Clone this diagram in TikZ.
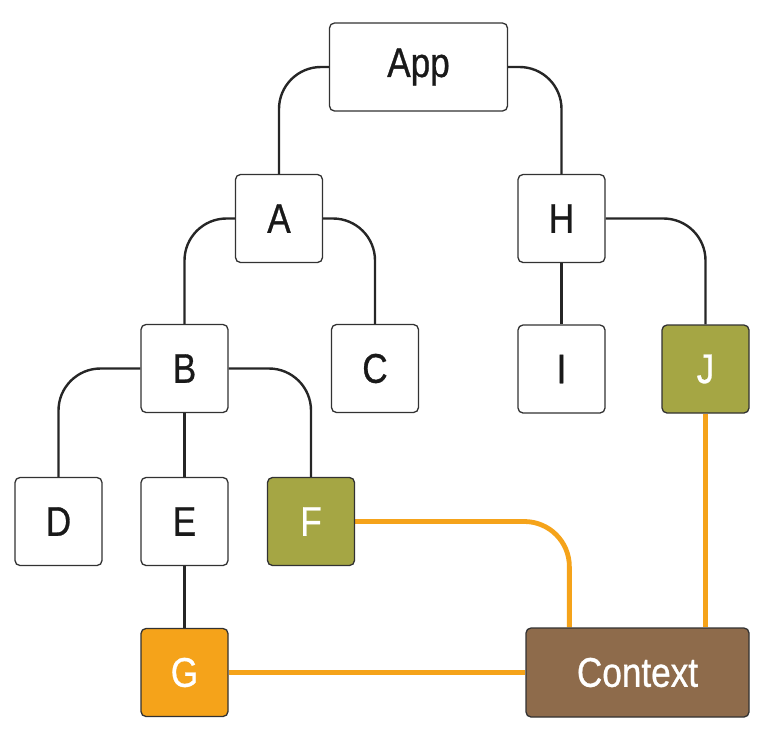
\documentclass[tikz,border=0pt]{standalone}
\usepackage{fontspec}
\setmainfont{Liberation Sans}
\newfontfamily\lblfont[FakeBold=0.8]{Liberation Sans}
\usetikzlibrary{backgrounds}
\definecolor{olive}{RGB}{165,166,68}
\definecolor{ctxorange}{RGB}{245,163,26}
\definecolor{ctxbrown}{RGB}{142,107,75}
\definecolor{boxline}{RGB}{50,50,50}
\newcommand{\lbl}[1]{\scalebox{0.95}[1.12]{#1}}
\tikzset{
  box/.style={draw=boxline, line width=1.3pt, rounded corners=5pt, fill=white,
    minimum width=87pt, minimum height=88pt, inner sep=0pt, text=black!90,
    font=\lblfont\fontsize{37}{40}\selectfont},
  olivebox/.style={box, fill=olive, text=white},
  orangebox/.style={box, fill=ctxorange, text=white},
  tree/.style={line width=2.4pt, black!85, rounded corners=42pt},
  ctx/.style={line width=4.8pt, ctxorange, rounded corners=45pt}
}
\begin{document}
\begin{tikzpicture}[x=1pt,y=-1pt]
\useasboundingbox (0,0) rectangle (770,732);
\node[box, minimum width=178pt] (App) at (418.5,67) {\lbl{App}};
\node[box] (A) at (279,218.5) {\lbl{A}};
\node[box] (H) at (561.5,218.5) {\lbl{H}};
\node[box] (B) at (184.5,368.5) {\lbl{B}};
\node[box] (C) at (375,368.5) {\lbl{C}};
\node[box] (I) at (561.5,369) {\lbl{I}};
\node[olivebox] (J) at (705.5,369) {\lbl{J}};
\node[box] (D) at (58.5,521.5) {\lbl{D}};
\node[box] (E) at (184.5,521.5) {\lbl{E}};
\node[olivebox] (F) at (311,521.5) {\lbl{F}};
\node[orangebox] (G) at (184.5,672.5) {\lbl{G}};
\node[box, fill=ctxbrown, text=white, minimum width=223pt, minimum height=89pt] (Ctx) at (637.5,672.5) {\lbl{Context}};
\begin{scope}[on background layer]
\draw[tree] (App.west) -| (A.north);
\draw[tree] (App.east) -| (H.north);
\draw[tree] (A.west) -| (B.north);
\draw[tree] (A.east) -| (C.north);
\draw[tree] (H.east) -| (J.north);
\draw[tree] (H.south) -- (I.north);
\draw[tree] (B.west) -| (D.north);
\draw[tree] (B.south) -- (E.north);
\draw[tree] (B.east) -| (F.north);
\draw[tree] (E.south) -- (G.north);
\draw[ctx] (F.east) -| ([xshift=44pt]Ctx.north west);
\draw[ctx] (J.south) -- (J.south |- Ctx.north);
\draw[ctx] (G.east) -- (Ctx.west);
\end{scope}
\end{tikzpicture}
\end{document}
